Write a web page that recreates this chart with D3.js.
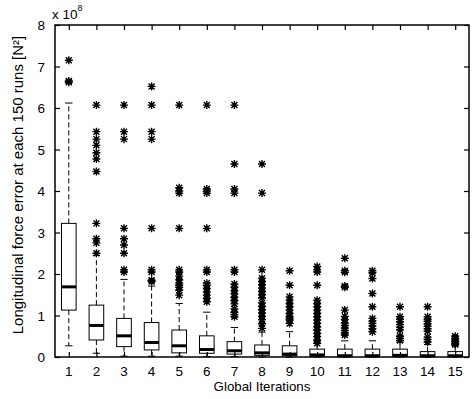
<!DOCTYPE html>
<html lang="en">
<head>
    <meta charset="UTF-8">
    <title>Longitudinal force error boxplot</title>
    <style>
        html, body { margin: 0; padding: 0; background: #fff; overflow: hidden; }
        svg { display: block; }
        text { font-family: "Liberation Sans", Arial, sans-serif; fill: #000; }
        .tick-label { font-size: 13.5px; }
        .axis-label { font-size: 13.3px; }
    </style>
</head>
<body>

<svg width="474" height="399"></svg>

<script src="https://cdn.jsdelivr.net/npm/d3@7"></script>
<script>

    // Global iterations (x categories)
    const iterations = [1, 2, 3, 4, 5, 6, 7, 8, 9, 10, 11, 12, 13, 14, 15];

    // Box statistics, in units of 1e8 N^2
    const whiskerLow  = [0.27, 0.09, 0.02, 0.02, 0.02, 0.01, 0.01, 0.0, 0.0, 0.0, 0.0, 0.0, 0.0, 0.0, 0.0];
    const q1          = [1.13, 0.41, 0.25, 0.17, 0.10, 0.09, 0.07, 0.04, 0.03, 0.02, 0.01, 0.01, 0.01, 0.01, 0.01];
    const medians     = [1.69, 0.76, 0.51, 0.35, 0.27, 0.18, 0.15, 0.10, 0.07, 0.05, 0.03, 0.03, 0.04, 0.03, 0.03];
    const q3          = [3.22, 1.25, 0.93, 0.83, 0.65, 0.51, 0.37, 0.29, 0.27, 0.19, 0.19, 0.19, 0.19, 0.13, 0.13];
    const whiskerHigh = [6.12, 2.45, 1.87, 1.71, 1.29, 1.08, 0.71, 0.60, 0.61, 0.38, 0.39, 0.39, 0.36, 0.30, 0.27];

    // Outliers per iteration
    const outliers = [
        [7.15, 6.65, 6.62],
        [6.07, 5.43, 5.25, 5.1, 4.92, 4.77, 4.47, 3.22, 2.85, 2.75, 2.5],
        [6.07, 5.43, 5.25, 3.1, 2.85, 2.7, 2.5, 2.1, 2.05],
        [6.52, 6.07, 5.43, 5.25, 3.1, 2.1, 2.05, 1.85, 1.82],
        [6.07, 4.08, 4.0, 3.95, 3.1, 2.1, 2.05, 1.95, 1.86, 1.78, 1.73, 1.68, 1.61, 1.49],
        [6.07, 4.05, 4.0, 3.95, 3.1, 2.1, 2.05, 1.78, 1.73, 1.65, 1.57, 1.49, 1.41, 1.33],
        [6.07, 4.65, 4.05, 3.95, 2.1, 2.05, 1.76, 1.68, 1.6, 1.52, 1.44, 1.36, 1.28, 1.16, 1.08, 1.02, 0.97],
        [4.65, 3.95, 2.1, 1.9, 1.82, 1.74, 1.66, 1.58, 1.5, 1.42, 1.3, 1.22, 1.14, 1.06, 0.98, 0.9, 0.8, 0.69],
        [2.08, 1.73, 1.45, 1.37, 1.29, 1.21, 1.13, 1.05, 0.97, 0.93, 0.89, 0.81],
        [2.18, 2.1, 2.05, 1.73, 1.37, 1.29, 1.21, 1.13, 1.05, 0.97, 0.89, 0.81, 0.73, 0.65, 0.57, 0.49, 0.41, 0.33],
        [2.38, 2.08, 2.04, 1.71, 1.68, 1.13, 0.98, 0.9, 0.82, 0.76, 0.7, 0.64, 0.58, 0.53],
        [2.08, 2.03, 1.89, 1.53, 1.21, 0.93, 0.87, 0.81, 0.75, 0.68, 0.61],
        [1.21, 0.97, 0.91, 0.85, 0.78, 0.72, 0.65, 0.5, 0.45, 0.4],
        [1.21, 0.97, 0.91, 0.86, 0.8, 0.74, 0.68, 0.62, 0.48, 0.42, 0.36],
        [0.5, 0.45, 0.41, 0.37, 0.33, 0.3]
    ];

    const yTicks = [0, 1, 2, 3, 4, 5, 6, 7, 8];

    const xLabel = 'Global Iterations';
    const yLabel = 'Longitudinal force error at each 150 runs [N\u00B2]';

    const svg = d3.select('svg');

    const margin = { left: 55, right: 5, top: 25, bottom: 42 };
    const width = +svg.attr('width');
    const height = +svg.attr('height');
    const innerWidth = width - margin.left - margin.right;
    const innerHeight = height - margin.top - margin.bottom;

    const xScale = d3.scaleLinear().domain([0.5, 15.5]).range([0, innerWidth]);
    const yScale = d3.scaleLinear().domain([0, 8]).range([innerHeight, 0]);

    const boxW = xScale(1.53) - xScale(1);
    const capW = boxW / 2;

    const group = svg.append('g')
        .attr('transform', 'translate(' + margin.left + ' ' + margin.top + ')');

    // Boxes
    const boxes = group.selectAll('.box')
        .data(iterations.map(function (it, i) {
            return {
                it: it, lo: whiskerLow[i], q1: q1[i], med: medians[i],
                q3: q3[i], hi: whiskerHigh[i], out: outliers[i]
            };
        }))
        .enter()
        .append('g')
        .attr('class', 'box')
        .attr('transform', function (d) { return 'translate(' + xScale(d.it) + ' 0)'; });

    // dashed whiskers
    boxes.append('line')
        .attr('y1', function (d) { return yScale(d.q3); })
        .attr('y2', function (d) { return yScale(d.hi); })
        .attr('stroke', '#000').attr('stroke-width', 1)
        .attr('stroke-dasharray', '5,3');
    boxes.append('line')
        .attr('y1', function (d) { return yScale(d.q1); })
        .attr('y2', function (d) { return yScale(d.lo); })
        .attr('stroke', '#000').attr('stroke-width', 1)
        .attr('stroke-dasharray', '5,3');

    // whisker caps
    boxes.append('line')
        .attr('x1', -capW / 2).attr('x2', capW / 2)
        .attr('y1', function (d) { return yScale(d.hi); })
        .attr('y2', function (d) { return yScale(d.hi); })
        .attr('stroke', '#000').attr('stroke-width', 1);
    boxes.append('line')
        .attr('x1', -capW / 2).attr('x2', capW / 2)
        .attr('y1', function (d) { return yScale(d.lo); })
        .attr('y2', function (d) { return yScale(d.lo); })
        .attr('stroke', '#000').attr('stroke-width', 1);

    // the box itself
    boxes.append('rect')
        .attr('x', -boxW / 2)
        .attr('width', boxW)
        .attr('y', function (d) { return yScale(d.q3); })
        .attr('height', function (d) { return yScale(d.q1) - yScale(d.q3); })
        .attr('fill', 'none')
        .attr('stroke', '#000').attr('stroke-width', 1);

    // median
    boxes.append('line')
        .attr('x1', -boxW / 2).attr('x2', boxW / 2)
        .attr('y1', function (d) { return yScale(d.med); })
        .attr('y2', function (d) { return yScale(d.med); })
        .attr('stroke', '#000').attr('stroke-width', 3);

    // outlier markers (star)
    const star = 'M-4,0L4,0M0,-4L0,4M-3,-3L3,3M-3,3L3,-3';
    boxes.selectAll('.outlier')
        .data(function (d) { return d.out; })
        .enter()
        .append('path')
        .attr('class', 'outlier')
        .attr('transform', function (v) { return 'translate(0 ' + yScale(v) + ')'; })
        .attr('d', star)
        .attr('stroke', '#000')
        .attr('stroke-width', 1.4)
        .attr('fill', 'none');
    boxes.selectAll('.outdot')
        .data(function (d) { return d.out; })
        .enter()
        .append('circle')
        .attr('cy', function (v) { return yScale(v); })
        .attr('r', 1.8)
        .attr('fill', '#000');

    // Axes: inward ticks on all four sides (no labels on these)
    const tickLen = 5;
    function bare(g) {
        g.select('.domain').remove();
        g.selectAll('.tick text').remove();
        g.selectAll('.tick line').attr('stroke', '#000').attr('stroke-width', 1.2);
    }
    group.append('g')
        .call(d3.axisBottom(xScale).tickValues(iterations).tickSize(tickLen))
        .call(bare);
    group.append('g')
        .attr('transform', 'translate(0 ' + innerHeight + ')')
        .call(d3.axisTop(xScale).tickValues(iterations).tickSize(tickLen))
        .call(bare);
    group.append('g')
        .call(d3.axisRight(yScale).tickValues(yTicks).tickSize(tickLen))
        .call(bare);
    group.append('g')
        .attr('transform', 'translate(' + innerWidth + ' 0)')
        .call(d3.axisLeft(yScale).tickValues(yTicks).tickSize(tickLen))
        .call(bare);

    // frame
    group.append('rect')
        .attr('width', innerWidth)
        .attr('height', innerHeight)
        .attr('fill', 'none')
        .attr('stroke', '#000')
        .attr('stroke-width', 1.5);

    // tick labels
    group.selectAll('.xlab')
        .data(iterations)
        .enter()
        .append('text')
        .attr('class', 'tick-label')
        .attr('x', function (d) { return xScale(d); })
        .attr('y', innerHeight + 19)
        .attr('text-anchor', 'middle')
        .text(function (d) { return d; });

    group.selectAll('.ylab')
        .data(yTicks)
        .enter()
        .append('text')
        .attr('class', 'tick-label')
        .attr('x', -10)
        .attr('y', function (d) { return yScale(d) + 5; })
        .attr('text-anchor', 'end')
        .text(function (d) { return d; });

    // exponent
    const expo = group.append('text')
        .attr('class', 'tick-label')
        .attr('x', -3)
        .attr('y', -6);
    expo.append('tspan').text('x 10');
    expo.append('tspan').attr('dy', -8).style('font-size', '9px').text('8');

    // axis labels
    group.append('text')
        .attr('class', 'axis-label')
        .attr('x', innerWidth / 2)
        .attr('y', innerHeight + 34)
        .attr('text-anchor', 'middle')
        .text(xLabel);

    group.append('text')
        .attr('class', 'axis-label')
        .style('font-size', '15px')
        .attr('transform', 'rotate(-90)')
        .attr('x', -160)
        .attr('y', -32)
        .attr('text-anchor', 'middle')
        .text(yLabel);

</script>
</body>
</html>
